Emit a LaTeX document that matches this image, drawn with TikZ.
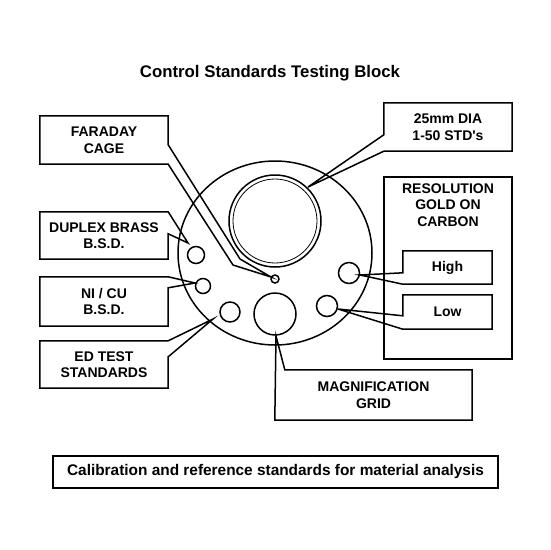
\documentclass[tikz,border=0pt]{standalone}
\usepackage{fontspec}
\setmainfont{Liberation Sans}
\usetikzlibrary{calc}

\tikzset{
  lbl/.style={inner sep=0pt, align=center, font=\fontsize{14}{16.5}\selectfont\bfseries},
  hole/.style={circle, draw, line width=1.5pt, inner sep=0pt, minimum size=#1},
  outline/.style={line width=1.5pt, line join=miter},
}

\begin{document}
\begin{tikzpicture}[x=1pt, y=-1pt]
      \useasboundingbox (0,0) rectangle (550,550);

      % Title
      \node[font=\fontsize{16.8}{20}\selectfont\bfseries] (title) at (270,73)
      {Control Standards Testing Block};

      % Block (disc and inset ring)
      \draw[line width=1.5pt] (275,253) ellipse [x radius=97, y radius=92];
      \draw[line width=1.5pt] (275,221) circle [radius=46];
      \draw[line width=0.8pt] (275,221) circle [radius=42];

      % Holes
      \node[hole=8pt]  (hfar)  at (275,279) {};
      \node[hole=17pt] (hdup)  at (196,255) {};
      \node[hole=15pt] (hnicu) at (203,286) {};
      \node[hole=20pt] (hed)   at (230,312) {};
      \node[hole=42pt] (hgrid) at (275,314) {};
      \node[hole=21pt] (hhigh) at (349,273) {};
      \node[hole=21pt] (hlow)  at (327,306) {};

      % Labels (left)
      \node[lbl, minimum width=128pt, minimum height=48pt] (faraday) at (104,140)
      {FARADAY\\CAGE};
      \node[lbl, minimum width=128pt, minimum height=47pt] (duplex) at (104,235.5)
      {DUPLEX BRASS\\B.S.D.};
      \node[lbl, minimum width=128pt, minimum height=49pt] (nicu) at (104,301.5)
      {NI / CU\\B.S.D.};
      \node[lbl, minimum width=128pt, minimum height=47pt] (edtest) at (104,364.5)
      {ED TEST\\STANDARDS};

      % Labels (right)
      \node[lbl, minimum width=128pt, minimum height=48pt] (dia) at (448,127)
      {25mm DIA\\1-50 STD\textquotesingle s};
      \node[draw, line width=1.5pt, minimum width=128pt, minimum height=182pt] (res)
      at (448,268) {};
      \node[lbl] (restitle) at (448,205) {RESOLUTION\\GOLD ON\\CARBON};
      \node[lbl, minimum width=89pt, minimum height=33pt] (high) at (447.5,267.5) {High};
      \node[lbl, minimum width=89pt, minimum height=34pt] (low) at (447.5,312) {Low};
      \node[lbl, minimum width=197pt, minimum height=50pt] (magn) at (373.5,395)
      {MAGNIFICATION\\GRID};

      % Caption
      \node[draw, line width=1.5pt, minimum width=445pt, minimum height=32pt,
      font=\fontsize{15.4}{18}\selectfont\bfseries] (caption) at (275.5,472)
      {Calibration and reference standards for material analysis};

      % Pointer tips
      \coordinate (fatip) at (271,277);
      \coordinate (fabend1) at (240,259);
      \coordinate (fabend2) at (233,265);
      \coordinate (duptip) at (188,243);
      \coordinate (nicutip) at (195,283);
      \coordinate (edtip) at (213,319);
      \coordinate (diatip) at (308,187);
      \coordinate (hightip) at (360,275);
      \coordinate (lowtip) at (338,309);
      \coordinate (magtip) at (276,336);

      % Callouts (left)
      \draw[outline] (faraday.north west) -- (faraday.north east)
      -- ($(faraday.north east)+(0,29)$) -- (fabend1) -- (fatip) -- (fabend2)
      -- (faraday.south east) -- (faraday.south west) -- cycle;
      \draw[outline] (duplex.north west) -- (duplex.north east) -- (duptip)
      -- ($(duplex.north east)+(0,22)$) -- (duplex.south east)
      -- (duplex.south west) -- cycle;
      \draw[outline] (nicu.north west) -- (nicu.north east) -- (nicutip)
      -- ($(nicu.north east)+(0,11)$) -- (nicu.south east)
      -- (nicu.south west) -- cycle;
      \draw[outline] (edtest.north west) -- (edtest.north east) -- (edtip)
      -- ($(edtest.north east)+(0,16)$) -- (edtest.south east)
      -- (edtest.south west) -- cycle;

      % Callouts (right)
      \draw[outline] (dia.north west) -- ($(dia.north west)+(0,32)$) -- (diatip)
      -- (dia.south west) -- (dia.south east) -- (dia.north east) -- cycle;
      \draw[outline] (high.north west) -- ($(high.north west)+(0,22)$) -- (hightip)
      -- (high.south west) -- (high.south east) -- (high.north east) -- cycle;
      \draw[outline] (low.north west) -- ($(low.north west)+(0,21)$) -- (lowtip)
      -- (low.south west) -- (low.south east) -- (low.north east) -- cycle;
      \draw[outline] (magn.south west) -- (magtip) -- ($(magn.north west)+(10,0)$)
      -- (magn.north east) -- (magn.south east) -- cycle;
\end{tikzpicture}
\end{document}
